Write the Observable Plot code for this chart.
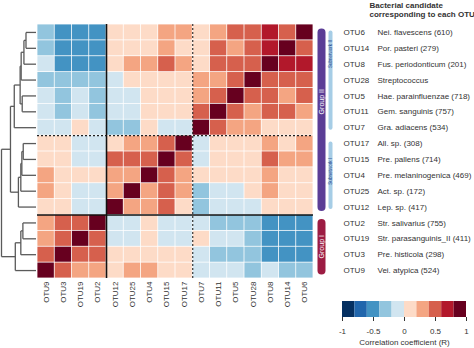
<!DOCTYPE html>
<html><head><meta charset="utf-8">
<script src="https://cdn.jsdelivr.net/npm/d3@7"></script>
<script src="https://cdn.jsdelivr.net/npm/@observablehq/plot@0.6"></script>
<style>
body{margin:0;background:#fff;font-family:"Liberation Sans",Arial,sans-serif;}
#wrap{position:relative;width:474px;height:348px;overflow:hidden;}
#wrap > svg, #wrap > figure{position:absolute;margin:0;}
</style></head><body><div id="wrap"></div>
<script>
// ---- data ----
const rows = ["OTU6","OTU14","OTU8","OTU28","OTU5","OTU11","OTU7","OTU17","OTU15","OTU4","OTU25","OTU12","OTU2","OTU19","OTU3","OTU9"];
const cols = ["OTU9","OTU3","OTU19","OTU2","OTU12","OTU25","OTU4","OTU15","OTU17","OTU7","OTU11","OTU5","OTU28","OTU8","OTU14","OTU6"];
const names = ["Nei. flavescens (610)","Por. pasteri (279)","Fus. periodonticum (201)","Streptococcus","Hae. parainfluenzae (718)","Gem. sanguinis (757)","Gra. adiacens (534)","All. sp. (308)","Pre. pallens (714)","Pre. melaninogenica (469)","Act. sp. (172)","Lep. sp. (417)","Str. salivarius (755)","Str. parasanguinis_II (411)","Pre. histicola (298)","Vei. atypica (524)"];
// correlation matrix: rows (top->bottom) x cols (left->right)
const corr = [
 [-0.30,-0.52,-0.52,-0.52, 0.10,0.10,0.10,0.30,0.30, 0.10,0.30,0.50,0.50,0.70,0.50,1.00],
 [-0.30,-0.52,-0.52,-0.52, 0.10,0.10,0.10,0.30,0.10, 0.10,0.50,0.30,0.50,0.70,1.00,0.50],
 [-0.10,-0.52,-0.52,-0.52, 0.10,0.30,0.30,0.50,0.30, 0.10,0.50,0.50,0.50,1.00,0.70,0.70],
 [-0.30,-0.30,-0.30,-0.30,-0.10,0.10,0.10,0.10,0.10, 0.30,0.30,0.50,1.00,0.50,0.50,0.50],
 [-0.10,-0.30,-0.10,-0.30,-0.10,-0.10,0.10,0.10,0.10, 0.30,0.50,1.00,0.50,0.50,0.30,0.50],
 [-0.10,-0.30,-0.10,-0.30,-0.10,-0.10,0.10,0.10,0.10, 0.50,1.00,0.50,0.30,0.50,0.50,0.30],
 [-0.10,-0.10,0.10,-0.10,-0.30,-0.30,0.10,-0.10,-0.10, 1.00,0.50,0.30,0.30,0.10,0.10,0.10],
 [0.10,0.10,-0.10,-0.10, 0.10,0.30,0.30,0.50,1.00, -0.10,0.10,0.10,0.10,0.30,0.10,0.30],
 [0.10,0.10,-0.10,-0.10, 0.50,0.50,0.50,1.00,0.50, -0.10,0.10,0.10,0.10,0.50,0.30,0.30],
 [0.30,0.10,0.10,0.10, 0.30,0.30,1.00,0.50,0.30, 0.10,0.10,0.10,0.10,0.30,0.10,0.10],
 [0.30,0.10,-0.10,-0.10, 0.30,1.00,0.30,0.50,0.30, -0.30,-0.10,-0.10,0.10,0.30,0.10,0.10],
 [0.10,0.10,-0.10,-0.10, 1.00,0.30,0.30,0.50,0.10, -0.30,-0.10,-0.10,-0.10,0.10,0.10,0.10],
 [0.30,0.50,0.50,1.00, -0.10,-0.10,0.10,-0.10,-0.10, -0.10,-0.30,-0.30,-0.30,-0.52,-0.52,-0.52],
 [0.30,0.50,1.00,0.50, -0.10,-0.10,0.10,-0.10,-0.10, 0.10,-0.10,-0.10,-0.30,-0.52,-0.52,-0.52],
 [0.50,1.00,0.50,0.50, 0.10,0.10,0.10,0.10,0.10, -0.10,-0.30,-0.30,-0.30,-0.52,-0.52,-0.52],
 [1.00,0.50,0.30,0.30, 0.10,0.30,0.30,0.10,0.10, -0.10,-0.10,-0.10,-0.30,-0.10,-0.30,-0.30]
];
const thresholds = [-0.8,-0.6,-0.4,-0.2,0,0.2,0.4,0.6,0.8];
const palette = ["#053061","#2166ac","#4393c3","#92c5de","#d1e5f0","#fddbc7","#f4a582","#d6604d","#b2182b","#67001f"];
const legendTicks = [-1,-0.5,0,0.5,1];
const legendTitle = "Correlation coefficient (R)";
const header = "Bacterial candidate\ncorresponding to each OTU";
const groups = [
 {name:"Group II", from:"OTU6", to:"OTU12", color:"#5b3d96"},
 {name:"Group I", from:"OTU2", to:"OTU9", color:"#9c1c43"}
];
const subnets = [
 {name:"Subnetwork II", from:"OTU6", to:"OTU7"},
 {name:"Subnetwork I", from:"OTU17", to:"OTU12"}
];
// dendrogram merges: [id, childA, childB, height]
const merges = [
 ["m1","OTU6","OTU14",0.29],
 ["m2","m1","OTU8",0.35],
 ["m3","m2","OTU28",0.43],
 ["m4","OTU5","OTU11",0.40],
 ["m5","m3","m4",0.46],
 ["m6","m5","OTU7",0.63],
 ["m7","OTU17","OTU15",0.37],
 ["m8","m7","OTU4",0.41],
 ["m9","m8","OTU25",0.44],
 ["m10","m9","OTU12",0.51],
 ["m11","m6","m10",0.74],
 ["m12","OTU2","OTU19",0.38],
 ["m13","m12","OTU3",0.44],
 ["m14","m13","OTU9",0.60],
 ["m15","m11","m14",1.00]
];

// ---- build ----
const FONT = '"Liberation Sans", Arial, sans-serif';
const colorScale = {type:"threshold", domain:thresholds, range:palette};
const cells = rows.flatMap((r,i)=>cols.map((c,j)=>({r:i,c:j,v:corr[i][j]})));
const last = cols.length - 0.5;
const idx = n => rows.indexOf(n);
const groupLabelDy = [-18, 0];
const subLabelDy = [-26, -4];

const groupMarks = groups.flatMap((g,k) => [
  Plot.link([g], {x1:()=>last, x2:()=>last, y1:d=>idx(d.from), y2:d=>idx(d.to), dx:8, stroke:g.color, strokeWidth:8, strokeLinecap:"round"}),
  Plot.text([g], {x:()=>last, y:d=>(idx(d.from)+idx(d.to))/2, dx:8, dy:groupLabelDy[k], text:"name", rotate:-90, fill:"white", fontSize:7})
]);
const subMarks = subnets.flatMap((s,k) => [
  Plot.link([s], {x1:()=>last, x2:()=>last, y1:d=>idx(d.from), y2:d=>idx(d.to), dx:17, stroke:"#a6cde6", strokeWidth:4, strokeLinecap:"round"}),
  Plot.text([s], {x:()=>last, y:d=>(idx(d.from)+idx(d.to))/2, dx:17, dy:subLabelDy[k], text:"name", rotate:-90, fill:"#23428a", fontSize:4.6})
]);

const main = Plot.plot({
  width:474, height:348, marginLeft:37, marginRight:161, marginTop:24, marginBottom:70,
  x:{domain:[-0.5,15.5]},
  y:{domain:[-0.5,15.5], reverse:true},
  color:colorScale,
  style:{fontFamily:FONT, fontSize:"8px", color:"#333", background:"transparent"},
  marks:[
    Plot.rect(cells, {x1:d=>d.c-0.5, x2:d=>d.c+0.5, y1:d=>d.r-0.5, y2:d=>d.r+0.5, fill:"v", inset:0.4}),
    Plot.ruleX([cols.indexOf("OTU7")-0.5], {stroke:"#222", strokeWidth:1.1, strokeDasharray:"2,2"}),
    Plot.ruleY([rows.indexOf("OTU17")-0.5], {stroke:"#222", strokeWidth:1.1, strokeDasharray:"2,2"}),
    Plot.ruleX([cols.indexOf("OTU12")-0.5], {stroke:"#111", strokeWidth:1.6}),
    Plot.ruleY([rows.indexOf("OTU2")-0.5], {stroke:"#111", strokeWidth:1.6}),
    Plot.axisX(d3.range(cols.length), {tickFormat:i=>cols[i], tickRotate:-90, tickSize:0, tickPadding:3, fontSize:8, label:null}),
    Plot.axisY(d3.range(rows.length), {anchor:"right", tickFormat:i=>rows[i], tickSize:0, tickPadding:30, fontSize:8, label:null}),
    Plot.text(names, {x:()=>last, y:(d,i)=>i, text:d=>d, dx:64, textAnchor:"start", fontSize:8, fill:"#333"}),
    Plot.text([header], {frameAnchor:"top-right", dx:56, dy:-23, textAnchor:"start", lineAnchor:"top", lineHeight:1.1, fontWeight:"bold", fontSize:8, fill:"#333"}),
    ...groupMarks,
    ...subMarks
  ]
});

// dendrogram
const nodes = new Map(rows.map((r,i)=>[r,{y:i,h:0}]));
const segs = [];
for (const [id,a,b,h] of merges) {
  const na = nodes.get(a), nb = nodes.get(b);
  segs.push({x1:h,y1:na.y,x2:h,y2:nb.y});
  segs.push({x1:na.h,y1:na.y,x2:h,y2:na.y});
  segs.push({x1:nb.h,y1:nb.y,x2:h,y2:nb.y});
  nodes.set(id,{y:(na.y+nb.y)/2,h});
}
const dendro = Plot.plot({
  width:37, height:348, marginLeft:1, marginRight:1.5, marginTop:24, marginBottom:70,
  x:{domain:[0,1], reverse:true, axis:null},
  y:{domain:[-0.5,15.5], reverse:true, axis:null},
  style:{background:"transparent"},
  marks:[Plot.link(segs, {x1:"x1", y1:"y1", x2:"x2", y2:"y2", stroke:"#5a5a5a", strokeWidth:1.3})]
});

// legend
const bins = d3.pairs([-1, ...thresholds, 1]);
const legend = Plot.plot({
  width:140, height:54, marginLeft:8, marginRight:8, marginTop:6, marginBottom:32,
  x:{domain:[-1,1]},
  color:colorScale,
  style:{fontFamily:FONT, fontSize:"8px", color:"#333", background:"transparent"},
  marks:[
    Plot.rect(bins, {x1:d=>d[0], x2:d=>d[1], fill:d=>(d[0]+d[1])/2}),
    Plot.axisX(legendTicks, {tickSize:4, tickPadding:7, fontSize:8, tickFormat:d=>String(d), label:null}),
    Plot.text([legendTitle], {frameAnchor:"bottom", dy:27, fontSize:8, fill:"#333"})
  ]
});

const wrap = document.getElementById("wrap");
main.style.left = "0px"; main.style.top = "0px";
dendro.style.left = "0px"; dendro.style.top = "0px";
legend.style.left = "334px"; legend.style.top = "295px";
wrap.append(main, dendro, legend);
</script></body></html>
